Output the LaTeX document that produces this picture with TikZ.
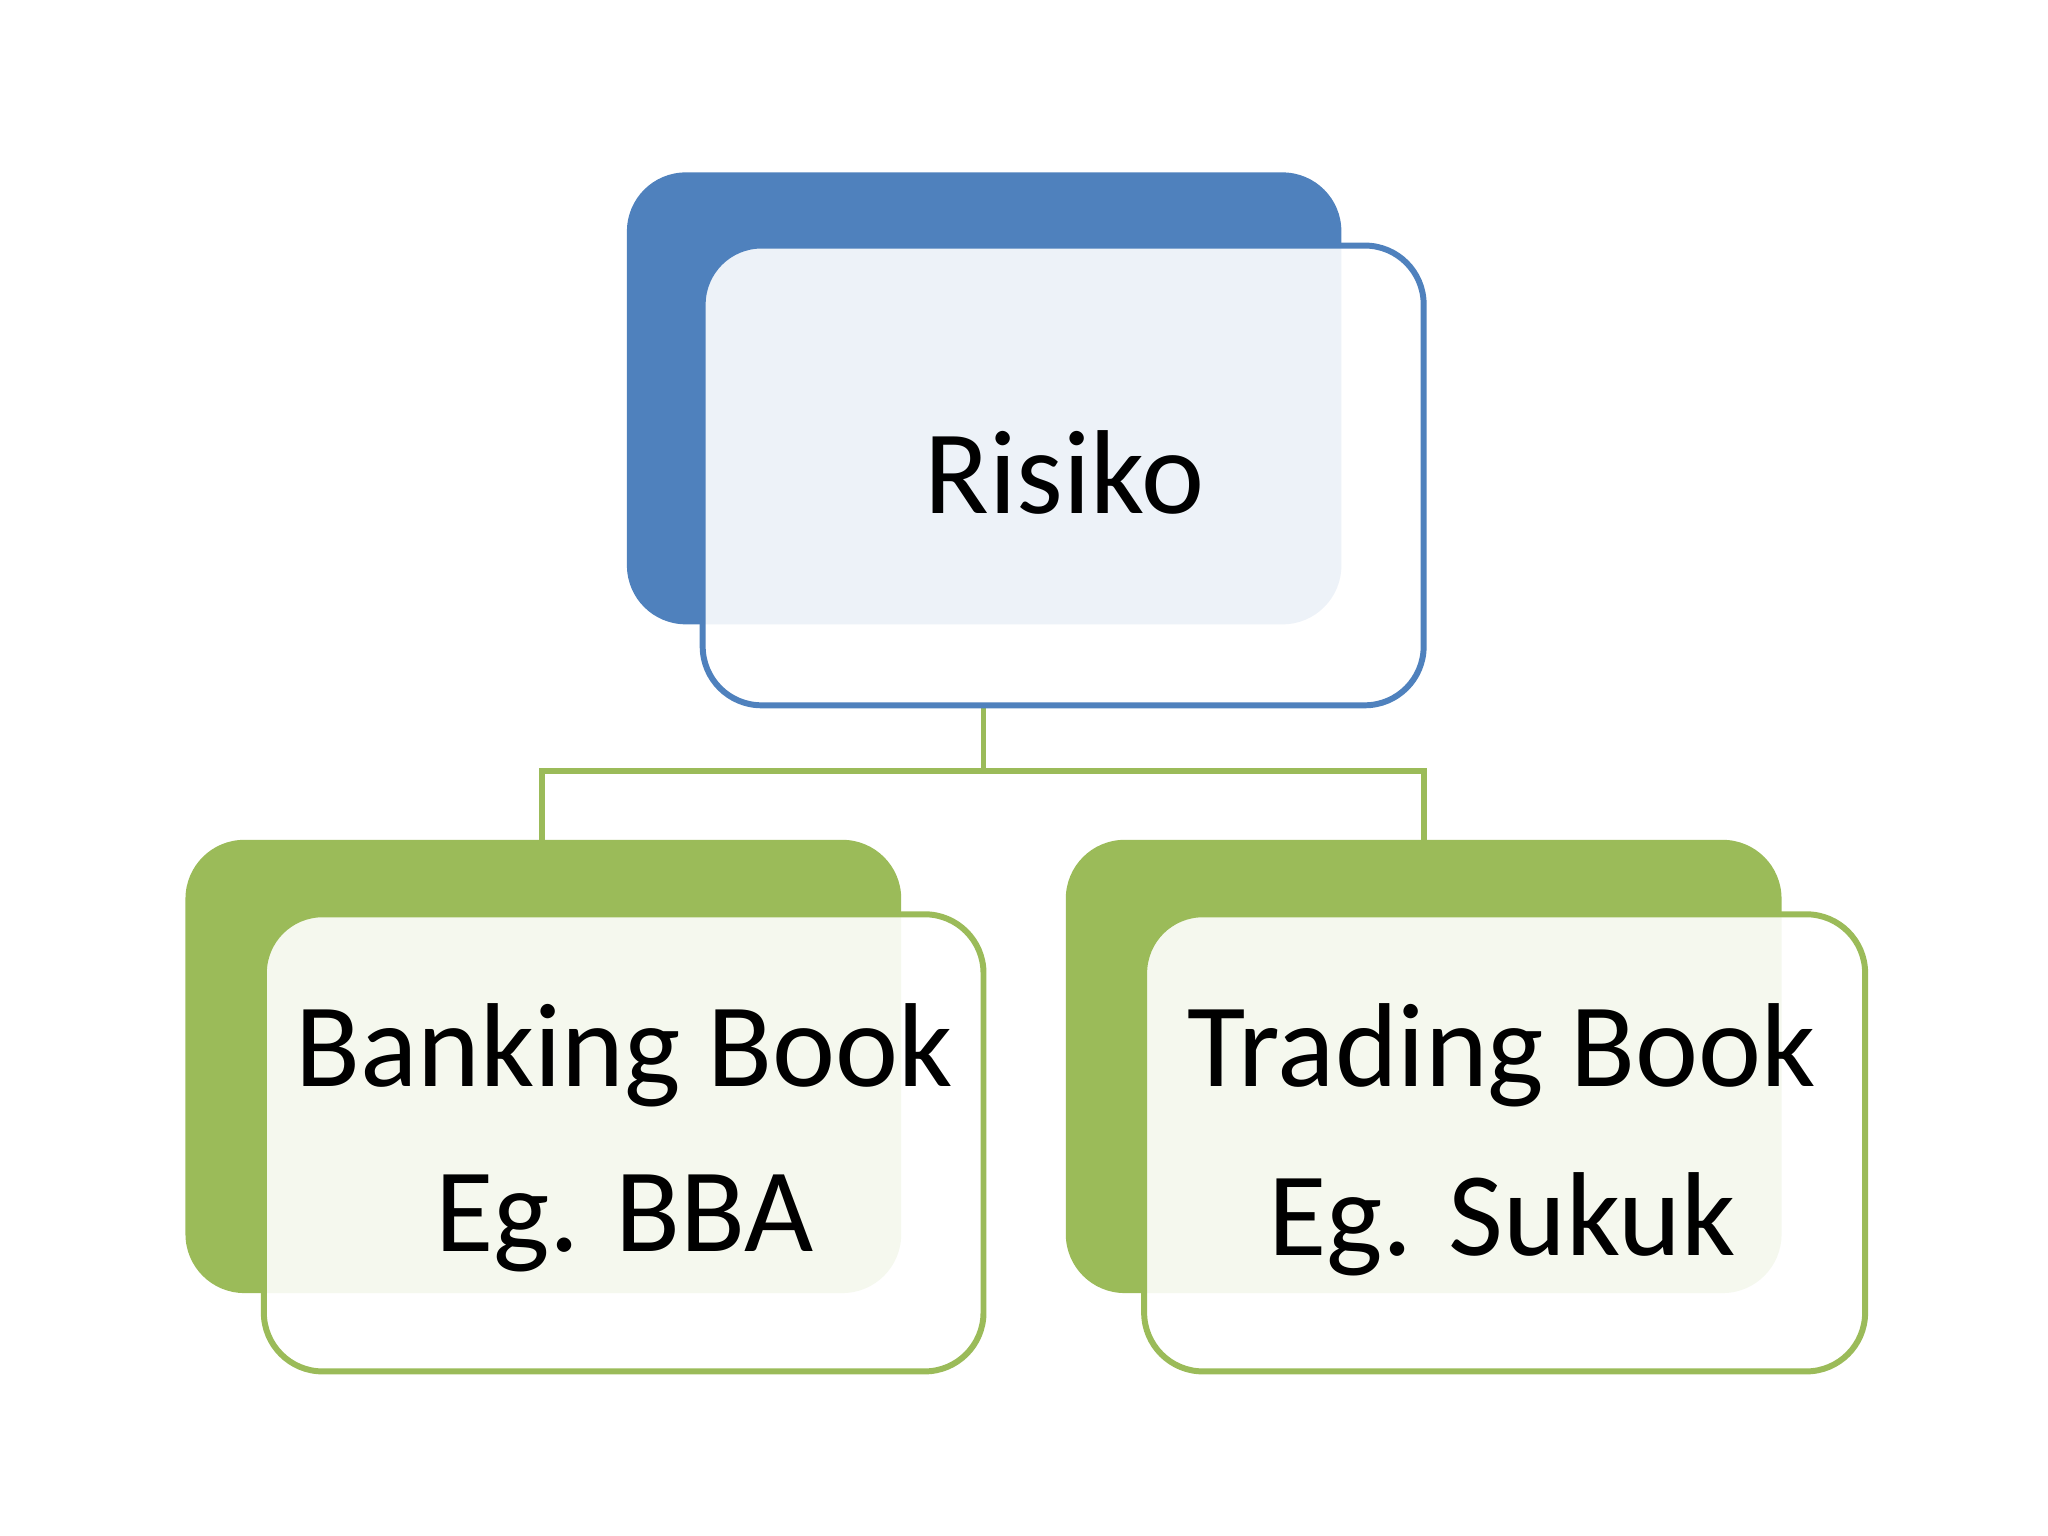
\documentclass[tikz,border=0pt]{standalone}
\usepackage{fontspec}
\setmainfont{Carlito}
\begin{document}
\begin{tikzpicture}[x=0.01cm,y=-0.01cm,
  back/.style={rounded corners=0.45cm},
  front/.style={rounded corners=0.45cm,fill=white,fill opacity=0.9,line width=1.3pt},
  lbl/.style={font=\fontsize{26}{30}\selectfont,text=black,align=center},
  conn/.style={draw=grn,line width=1.3pt}]
\definecolor{blu}{HTML}{4F81BD}
\definecolor{grn}{HTML}{9BBB59}
\useasboundingbox (0,0) rectangle (1568,1176);
% connectors
\coordinate (top) at (753,540);
\coordinate (mid) at (753,590);
\coordinate (l) at (415,643);
\coordinate (r) at (1090,643);
\draw[conn] (top) -- (mid) -| (l);
\draw[conn] (mid) -| (r);
% top
\fill[back,blu] (480,132) rectangle (1027,478);
\draw[front,draw=blu] (538,188) rectangle (1090,540);
\node[lbl] (risiko) at (815,362) {Risiko};
% left
\fill[back,grn] (142,643) rectangle (690,990);
\draw[front,draw=grn] (202,700) rectangle (753,1050);
\node[lbl] (bank) at (478,808) {Banking Book};
\node[lbl] (bba) at (478,937) {Eg. BBA};
% right
\fill[back,grn] (816,643) rectangle (1364,990);
\draw[front,draw=grn] (876,700) rectangle (1428,1050);
\node[lbl] (trade) at (1150,808) {Trading Book};
\node[lbl] (sukuk) at (1150,937) {Eg. Sukuk};
\end{tikzpicture}
\end{document}
